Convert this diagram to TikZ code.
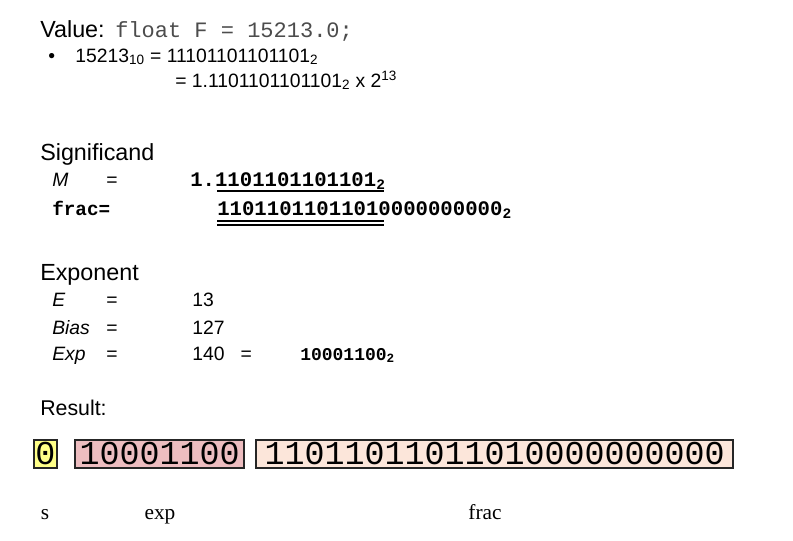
\documentclass[tikz,border=0pt]{standalone}
\usepackage{fontspec}
\setmainfont{Liberation Sans}
\newfontfamily\cour{Liberation Mono}
\newfontfamily\tms{Liberation Serif}
\definecolor{signcol}{HTML}{FFFF88}
\definecolor{expcol}{HTML}{EDBDC0}
\definecolor{fraccol}{HTML}{FCE6DA}
\tikzset{
  txt/.style={anchor=base west, inner sep=0pt, font=\fontsize{14.5}{16}\selectfont},
  head/.style={anchor=base west, inner sep=0pt, font=\fontsize{17.5}{19}\selectfont},
  mono/.style={anchor=base west, inner sep=0pt, font=\cour\bfseries\fontsize{15.5}{17}\selectfont},
  field/.style={draw=black!85, line width=1.4pt, minimum height=21.5pt, inner sep=1pt,
    anchor=west, font=\cour\fontsize{25}{26}\selectfont},
  lbl/.style={anchor=base, inner sep=0pt, font=\tms\fontsize{16}{18}\selectfont}
}
\begin{document}
\begin{tikzpicture}[x=0.75pt,y=-0.75pt]
\useasboundingbox (0,0) rectangle (793,540);

% value
\node[head] (val) at (40,37) {Value:};
\node[anchor=base west, inner sep=0pt, font=\cour\fontsize{16.5}{18}\selectfont, text=black!70] (decl) at (115,37) {float F = 15213.0;};
\node[txt] (bul) at (48,62) {\textbullet};
\node[txt] (bin) at (75,62) {15213\textsubscript{10} = 11101101101101\textsubscript{2}};
\node[txt] (norm) at (175,87) {= 1.1101101101101\textsubscript{2} x 2\textsuperscript{13}};

% significand
\node[head] (sig) at (40,160) {Significand};
\node[txt] (mlbl) at (52,186) {\itshape M};
\node[txt] (meq) at (106,186) {=};
\node[mono] (mval) at (190,186) {1.1101101101101\textsubscript{2}};
\node[mono, font=\cour\bfseries\fontsize{14.5}{16}\selectfont] (flbl) at (52,215) {frac=};
\node[mono] (fval) at (217,215) {11011011011010000000000\textsubscript{2}};
\draw[line width=1pt] (217,191) -- (384,191);
\draw[line width=1pt] (217,221) -- (384,221);
\draw[line width=1pt] (217,225) -- (384,225);

% exponent
\node[head] (expo) at (40,280) {Exponent};
\node[txt] (elbl) at (52,306) {\itshape E};
\node[txt] (eeq) at (106,306) {=};
\node[txt] (eval) at (192,306) {13};
\node[txt] (blbl) at (52,334) {\itshape Bias};
\node[txt] (beq) at (106,334) {=};
\node[txt] (bval) at (192,334) {127};
\node[txt] (xlbl) at (52,360) {\itshape Exp};
\node[txt] (xeq) at (106,360) {=};
\node[txt] (xval) at (192,360) {140 \ \ =};
\node[mono, font=\cour\bfseries\fontsize{13.5}{15}\selectfont] (xbin) at (300,360) {10001100\textsubscript{2}};

% result
\node[head, font=\fontsize{16}{18}\selectfont] (res) at (40,415) {Result:};
\node[field, fill=signcol, minimum width=15pt] (s) at (33,454) {0};
\node[field, fill=expcol, minimum width=127pt] (e) at (74,454) {10001100};
\node[field, fill=fraccol, minimum width=358pt] (f) at (255,454) {11011011011010000000000};
\node[lbl] (slbl) at (45,519) {s};
\node[lbl] (elbl2) at (160,519) {exp};
\node[lbl] (flbl2) at (485,519) {frac};
\end{tikzpicture}
\end{document}
